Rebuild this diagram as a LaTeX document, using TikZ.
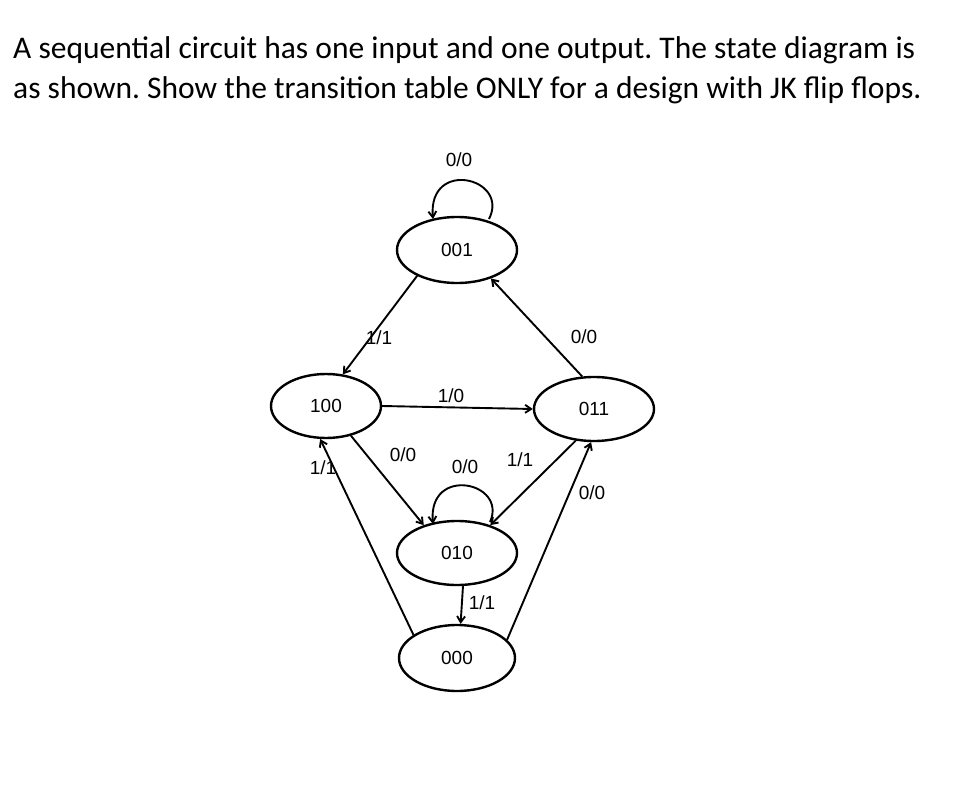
\documentclass[tikz,border=0pt]{standalone}
\usepackage{fontspec}
\setmainfont{Carlito}
\newfontfamily\arialf{Liberation Sans}
\usetikzlibrary{shapes.geometric,arrows.meta}
\begin{document}
\begin{tikzpicture}[x=1pt,y=-1pt,
  st/.style={draw,ellipse,line width=2.4pt,inner sep=0pt,font=\arialf\fontsize{19}{21}\selectfont},
  lb/.style={font=\arialf\fontsize{19}{21}\selectfont,inner sep=1pt},
  tr/.style={line width=1.9pt,-{Straight Barb[length=6pt,width=8pt]}}]
\useasboundingbox (0,0) rectangle (970,798);
\node[anchor=base west,inner sep=0pt,font=\frenchspacing\fontsize{31.5}{36}\selectfont] (t1) at (13,58) {A sequential circuit has one input and one output. The state diagram is};
\node[anchor=base west,inner sep=0pt,font=\frenchspacing\fontsize{31.5}{36}\selectfont] (t2) at (13,98) {as shown. Show the transition table ONLY for a design with JK flip flops.};
\node[st,minimum width=120pt,minimum height=66pt] (s001) at (457,250) {001};
\node[st,minimum width=110pt,minimum height=64pt] (s100) at (326,406) {100};
\node[st,minimum width=120pt,minimum height=64pt] (s011) at (594,409) {011};
\node[st,minimum width=120pt,minimum height=64pt] (s010) at (457,553) {010};
\node[st,minimum width=116pt,minimum height=66pt] (s000) at (457,658) {000};
\coordinate (a1) at (489,219);
\coordinate (a2) at (433,219);
\draw[tr] (a1) .. controls (510,178) and (428,158) .. (a2);
\node[lb] (l1) at (459,160) {0/0};
\draw[tr] (s001.213) -- (s100.62);
\node[lb] (l2) at (379,338) {1/1};
\draw[tr] (s011.110) -- (s001.-40);
\node[lb] (l3) at (584,337) {0/0};
\draw[tr] (s100.east) -- (s011.west);
\node[lb] (l4) at (451,396) {1/0};
\draw[tr] (s100.-50) -- (s010.140);
\node[lb] (l5) at (403,455) {0/0};
\draw[tr] (s011.-120) -- (s010.40);
\node[lb] (l6) at (520,460) {1/1};
\coordinate (b1) at (490,522);
\coordinate (b2) at (433,524);
\draw[tr] (b1) .. controls (508,482) and (428,465) .. (b2);
\node[lb] (l7) at (465,467) {0/0};
\coordinate (c1) at (463,586);
\draw[tr] (c1) -- (s000.84);
\node[lb] (l8) at (482,603) {1/1};
\draw[tr] (s000.152) -- (s100.-100);
\node[lb] (l9) at (323,468) {1/1};
\draw[tr] (s000.20) -- (s011.-95);
\node[lb] (l10) at (592,493) {0/0};
\end{tikzpicture}
\end{document}
